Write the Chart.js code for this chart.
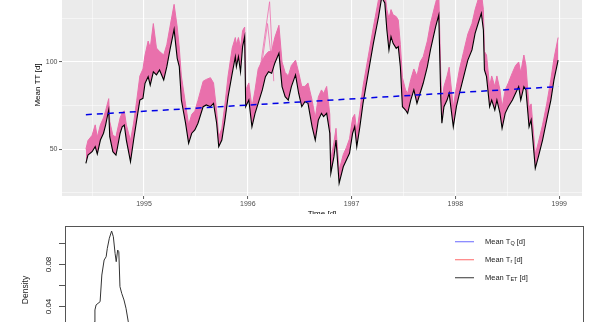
<!DOCTYPE html>
<html>
<head>
<meta charset="utf-8">
<script src="https://cdn.jsdelivr.net/npm/chart.js@4.4.1/dist/chart.umd.min.js"></script>
<style>
  html, body { margin: 0; padding: 0; background: #fff; overflow: hidden; }
  body { width: 612px; height: 322px; position: relative; }
  #topWrap { position: absolute; left: 0; top: 0; width: 612px; height: 214px; overflow: hidden; }
  #bottomWrap { position: absolute; left: 0; top: 214px; width: 612px; height: 170px; background: #fff; }
  canvas { display: block; }
</style>
</head>
<body>
<div id="topWrap"><canvas id="ttChart" width="612" height="230"></canvas></div>
<div id="bottomWrap"><canvas id="densChart" width="612" height="170"></canvas></div>
<script>
// time axis (decimal years) and the series
const years = [
  1994.44,1994.46,1994.50,1994.53,1994.55,1994.58,1994.61,1994.63,1994.66,1994.67,
  1994.70,1994.73,1994.74,1994.77,1994.79,1994.81,1994.83,1994.87,1994.90,1994.93,
  1994.96,1994.99,1995.01,1995.04,1995.06,1995.09,1995.12,1995.15,1995.19,1995.22,
  1995.25,1995.29,1995.32,1995.34,1995.36,1995.40,1995.43,1995.46,1995.49,1995.52,
  1995.57,1995.60,1995.64,1995.67,1995.70,1995.72,1995.75,1995.78,1995.81,1995.85,
  1995.88,1995.89,1995.91,1995.93,1995.95,1995.97,1995.98,1996.01,1996.04,1996.07,
  1996.10,1996.14,1996.17,1996.20,1996.23,1996.26,1996.30,1996.33,1996.36,1996.39,
  1996.42,1996.46,1996.49,1996.52,1996.55,1996.58,1996.62,1996.65,1996.68,1996.71,
  1996.73,1996.76,1996.79,1996.80,1996.83,1996.85,1996.88,1996.92,1996.95,1996.98,
  1997.01,1997.03,1997.05,1997.08,1997.11,1997.16,1997.21,1997.26,1997.29,1997.32,
  1997.34,1997.36,1997.38,1997.40,1997.43,1997.45,1997.47,1997.49,1997.52,1997.54,
  1997.57,1997.60,1997.63,1997.66,1997.69,1997.73,1997.76,1997.81,1997.84,1997.86,
  1997.87,1997.89,1997.92,1997.94,1997.98,1998.01,1998.04,1998.08,1998.12,1998.16,
  1998.19,1998.22,1998.25,1998.27,1998.28,1998.30,1998.33,1998.35,1998.38,1998.40,
  1998.43,1998.45,1998.48,1998.51,1998.55,1998.58,1998.61,1998.63,1998.66,1998.68,
  1998.71,1998.73,1998.77,1998.80,1998.84,1998.88,1998.92,1998.95,1998.99
];
const meanTT = [
  42.0,46.7,48.6,51.5,47.3,55.3,59.2,63.9,72.5,57.2,
  48.6,46.7,49.6,59.2,62.9,63.9,55.3,42.9,55.3,66.8,
  78.2,79.2,87.8,91.6,86.8,94.4,92.6,95.4,89.7,97.3,
  106.9,118.7,102.1,97.3,78.2,65.1,53.4,59.2,61.1,64.9,
  74.4,75.4,74.4,76.3,64.9,51.5,55.3,66.8,80.1,93.5,
  103.0,97.3,103.0,94.4,108.8,114.5,74.4,78.2,62.9,70.6,
  76.3,84.0,91.6,94.4,93.5,99.3,105.0,85.9,80.1,78.2,
  85.9,92.6,82.1,74.4,77.3,76.3,62.9,55.3,66.8,70.6,
  68.7,70.6,59.2,36.3,45.8,55.3,30.5,40.0,43.9,47.7,
  59.2,62.9,51.5,62.9,76.3,93.5,110.7,125.9,137.0,133.8,
  118.3,106.9,114.5,110.7,107.8,108.8,97.3,74.4,72.5,70.6,
  78.2,84.0,76.3,82.1,87.8,97.3,106.9,120.2,126.9,78.2,
  64.9,74.4,78.2,82.1,62.9,74.4,82.1,91.6,101.1,106.9,
  116.4,122.2,127.9,118.3,95.4,91.6,74.4,78.2,72.5,78.2,
  70.6,62.0,70.6,74.4,78.2,82.1,85.9,78.2,85.9,84.0,
  62.9,66.8,39.1,45.8,55.3,66.8,78.2,89.7,101.1
];
// upper edge of the ensemble runs
const ensembleTop = [
  50,55,58,64,57,64,68,72,79,66,
  58,57,60,68,71,72,64,55,65,78,
  92,96,104,112,108,122,108,106,104,110,
  120,133,120,108,92,76,64,70,72,78,
  89,90,91,88,72,57,62,76,92,108,
  114,110,114,108,118,120,84,88,74,84,
  96,101,104,106,106,114,121,100,94,92,
  98,101,94,86,86,88,78,68,80,84,
  82,86,70,44,54,62,38,47,51,56,
  68,70,60,72,86,103,120,136,145,140,
  130,125,130,127,126,124,110,91,84,82,
  90,96,92,100,103,112,122,134,140,92,
  76,86,92,97,74,86,96,106,116,122,
  130,136,140,130,106,104,86,92,86,92,
  84,74,84,88,94,98,100,94,104,98,
  74,76,47,54,64,76,90,102,114
];
// single runs that leave the band around 1996.2
const outlierYears = [1996.08, 1996.21, 1996.25];
const outlierVals = [80.0, 134.5, 89.0];
const outlier2Years = [1996.10, 1996.19, 1996.24];
const outlier2Vals = [84.0, 122.0, 95.0];
// linear trend
const trendYears = [1994.44, 1998.99];
const trendVals = [69.8, 85.9];
const yTicks = [25, 50, 75, 100, 125];
const yLabels = [50, 100];
const xTicks = [1994.5, 1995, 1995.5, 1996, 1996.5, 1997, 1997.5, 1998, 1998.5, 1999];

// density panel
const densX = [9.9,10.2,10.4,10.8,12.2,12.8,13.6,14.3,14.7,15.4,16.2,16.8,17.4,17.8,18.3,18.7,19.1,19.7,20.5,21.2,22.0,22.4];
const densY = [0.018,0.0251,0.0365,0.0413,0.0444,0.0698,0.0841,0.0872,0.0952,0.1048,0.1117,0.1063,0.0905,0.0825,0.0936,0.0920,0.0587,0.0524,0.0460,0.0381,0.0251,0.018];
const densTicks = [0, 0.02, 0.04, 0.06, 0.08, 0.10];
const densTickLabels = { 0: '0.00', 0.04: '0.04', 0.08: '0.08' };
const legendSubs = ['Q', 'r', 'ET'];

const toPoints = (xs, ys) => xs.map((x, i) => ({ x: x, y: ys[i] }));
const FONT = '"Liberation Sans", Arial, sans-serif';

const panelBg = {
  id: 'panelBg',
  beforeDraw(chart) {
    const a = chart.chartArea, ctx = chart.ctx;
    ctx.save();
    ctx.fillStyle = '#ebebeb';
    ctx.fillRect(a.left, a.top, a.right - a.left, a.bottom - a.top);
    ctx.restore();
  }
};

const ttTitles = {
  id: 'ttTitles',
  afterDraw(chart) {
    const ctx = chart.ctx, a = chart.chartArea, ys = chart.scales.y;
    ctx.save();
    // y tick labels (drawn here so the panel can reach the top edge)
    ctx.fillStyle = '#4d4d4d';
    ctx.font = '7px ' + FONT;
    ctx.textAlign = 'right';
    ctx.textBaseline = 'middle';
    yLabels.forEach(v => ctx.fillText(String(v), a.left - 4.5, ys.getPixelForValue(v)));
    ctx.fillStyle = '#000';
    ctx.font = '8px ' + FONT;
    ctx.textAlign = 'center';
    ctx.fillText('Time [d]', (a.left + a.right) / 2, a.bottom + 18);
    ctx.translate(38, 85);
    ctx.rotate(-Math.PI / 2);
    ctx.fillText('Mean TT [d]', 0, 0);
    ctx.restore();
  }
};

const isMajor = v => Number.isInteger(v);

new Chart(document.getElementById('ttChart'), {
  type: 'line',
  data: {
    datasets: [
      { data: toPoints(years, ensembleTop), borderColor: 'rgb(233,112,172)', backgroundColor: 'rgb(233,112,172)',
        borderWidth: 1, pointRadius: 0, fill: 1, order: 3 },
      { data: toPoints(years, meanTT), borderColor: '#000', borderWidth: 1.1, pointRadius: 0, fill: false, order: 1 },
      { data: toPoints(outlierYears, outlierVals), borderColor: 'rgb(236,110,175)', borderWidth: 0.8, pointRadius: 0, fill: false, order: 4 },
      { data: toPoints(outlier2Years, outlier2Vals), borderColor: 'rgb(236,110,175)', borderWidth: 0.8, pointRadius: 0, fill: false, order: 4 },
      { data: toPoints(trendYears, trendVals), borderColor: '#0000e6', borderWidth: 1.5, borderDash: [6, 5], pointRadius: 0, fill: false, order: 0 }
    ]
  },
  options: {
    responsive: false,
    animation: false,
    devicePixelRatio: 1,
    layout: { padding: { left: 0, right: 30, top: 0, bottom: 0 } },
    plugins: { legend: { display: false }, tooltip: { enabled: false } },
    scales: {
      x: {
        type: 'linear', min: 1994.21, max: 1999.22,
        afterBuildTicks: s => { s.ticks = xTicks.map(v => ({ value: v })); },
        afterFit: s => { s.height = 34; },
        border: { display: false },
        grid: {
          color: '#fff',
          lineWidth: c => (c.tick && isMajor(c.tick.value)) ? 1.1 : 0.5,
          tickColor: c => (c.tick && isMajor(c.tick.value)) ? '#333' : 'rgba(0,0,0,0)',
          tickLength: 3, tickWidth: 0.8
        },
        ticks: {
          autoSkip: false, maxRotation: 0, padding: 1, color: '#4d4d4d', font: { family: FONT, size: 7 },
          callback: v => isMajor(v) ? String(v) : ''
        }
      },
      y: {
        min: 23.25, max: 135.5,
        afterBuildTicks: s => { s.ticks = yTicks.map(v => ({ value: v })); },
        afterFit: s => { s.width = 62; },
        border: { display: false },
        grid: {
          color: '#fff',
          lineWidth: c => (c.tick && c.tick.value % 50 === 0) ? 1.1 : 0.5,
          tickColor: c => (c.tick && c.tick.value % 50 === 0) ? '#333' : 'rgba(0,0,0,0)',
          tickLength: 3, tickWidth: 0.8
        },
        ticks: { display: false }
      }
    }
  },
  plugins: [panelBg, ttTitles]
});

const densDecor = {
  id: 'densDecor',
  afterDraw(chart) {
    const ctx = chart.ctx, a = chart.chartArea, ys = chart.scales.y;
    ctx.save();
    ctx.strokeStyle = '#555';
    ctx.lineWidth = 1;
    ctx.strokeRect(Math.round(a.left) + 0.5, Math.round(a.top) + 0.5, a.right - a.left, a.bottom - a.top);
    ctx.fillStyle = '#222';
    ctx.font = '8px ' + FONT;
    ctx.textAlign = 'center';
    ctx.textBaseline = 'middle';
    densTicks.forEach(v => {
      const py = Math.round(ys.getPixelForValue(v)) + 0.5;
      ctx.beginPath();
      ctx.moveTo(a.left - 6, py);
      ctx.lineTo(a.left, py);
      ctx.stroke();
      const lab = densTickLabels[v];
      if (lab) {
        ctx.save();
        ctx.translate(a.left - 16, py);
        ctx.rotate(-Math.PI / 2);
        ctx.fillText(lab, 0, 0);
        ctx.restore();
      }
    });
    ctx.save();
    ctx.font = '8.5px ' + FONT;
    ctx.translate(26, 76);
    ctx.rotate(-Math.PI / 2);
    ctx.fillText('Density', 0, 0);
    ctx.restore();

    // legend (no box)
    const colors = ['#8080ff', '#ff8080', '#555555'];
    legendSubs.forEach((sub, i) => {
      const py = 27.7 + i * 18;
      ctx.strokeStyle = colors[i];
      ctx.lineWidth = 1.2;
      ctx.beginPath();
      ctx.moveTo(455, py);
      ctx.lineTo(474, py);
      ctx.stroke();
      ctx.fillStyle = '#222';
      ctx.textAlign = 'left';
      ctx.textBaseline = 'middle';
      let x = 485;
      ctx.font = '7.5px ' + FONT;
      ctx.fillText('Mean T', x, py);
      x += ctx.measureText('Mean T').width;
      ctx.font = '5.5px ' + FONT;
      ctx.fillText(sub, x, py + 2);
      x += ctx.measureText(sub).width;
      ctx.font = '7.5px ' + FONT;
      ctx.fillText(' [d]', x, py);
    });
    ctx.restore();
  }
};

new Chart(document.getElementById('densChart'), {
  type: 'line',
  data: {
    datasets: [
      { data: toPoints(densX, densY), borderColor: '#333', borderWidth: 1, pointRadius: 0, fill: false }
    ]
  },
  options: {
    responsive: false,
    animation: false,
    devicePixelRatio: 1,
    layout: { padding: { left: 65, right: 29, top: 12, bottom: 31 } },
    plugins: { legend: { display: false }, tooltip: { enabled: false } },
    scales: {
      x: { type: 'linear', display: false, min: 0, max: 180 },
      y: { display: false, min: -0.0045, max: 0.1165 }
    }
  },
  plugins: [densDecor]
});
</script>
</body>
</html>
